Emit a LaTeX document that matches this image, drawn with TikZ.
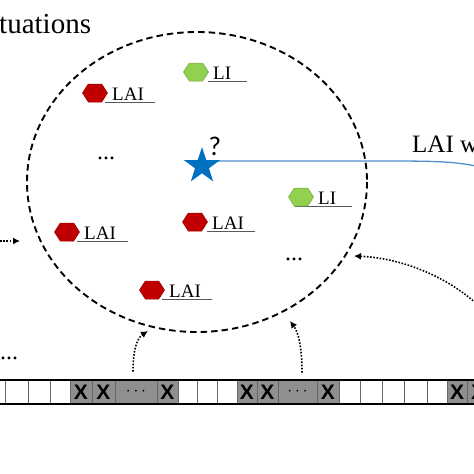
\documentclass[tikz,border=0pt]{standalone}
\usepackage{fontspec}
\setmainfont{Liberation Serif}
\newfontfamily\qmarkfont{Carlito}
\newfontfamily\cellfont{Liberation Sans}
\usetikzlibrary{shapes.geometric, shapes.symbols, arrows.meta, backgrounds}

\definecolor{laired}{HTML}{C00000}
\definecolor{ligreen}{HTML}{92D050}
\definecolor{starblue}{HTML}{0070C0}
\definecolor{trackblue}{HTML}{4F8FCF}
\definecolor{cellgray}{HTML}{8F8F8F}

\begin{document}
\begin{tikzpicture}[x=1pt, y=-1pt,
	hexa/.style={signal, signal to=east and west, signal pointer angle=115, minimum width=25pt, minimum height=18pt, inner sep=0pt, fill=#1, draw=#1!80!black, line width=0.5pt},
	tag/.style={anchor=base west, inner sep=0pt, font=\fontsize{19}{19}\selectfont},
	uline/.style={draw=black!65, line width=0.8pt},
	dotrow/.style={anchor=base, inner sep=0pt, font=\fontsize{24}{24}\selectfont},
	pool/.style={draw, line width=1.9pt, dash pattern=on 6.5pt off 4pt},
	hop/.style={line width=1.6pt, dash pattern=on 1.6pt off 1.6pt, -{Latex[length=7pt, width=7pt]}},
	cell/.style={draw=black!60, line width=0.7pt, minimum height=24pt, inner sep=0pt, font=\cellfont\bfseries\fontsize{21}{21}\selectfont}]

	\useasboundingbox (0,0) rectangle (474,474);
	\clip (0,0) rectangle (474,474);

	\node[anchor=base west, inner sep=0pt, font=\fontsize{29}{29}\selectfont] (title) at (-1,33) {tuations};

	\draw[pool] (197,182) ellipse [x radius=170, y radius=150];

	% labelled items inside the set
	\foreach \n/\x/\y/\c/\t/\s/\e in {a/95/93/laired/LAI/10/60, b/196/72/ligreen/LI/12/51, c/195/222/laired/LAI/12/60, d/67/232/laired/LAI/10/61, e/152/290/laired/LAI/10/60, f/301/197/ligreen/LI/-6/51} {
		\draw[uline] (\x+\s,\y+9.5) -- (\x+\e,\y+9.5); % underline
		\node[hexa=\c] (h\n) at (\x,\y) {};
		\node[tag] (t\n) at (\x+17,\y+7) {\t};
	}
	\node[dotrow] (dotsa) at (106,159) {...};
	\node[dotrow] (dotsb) at (294,260) {...};
	\node[dotrow, anchor=base west] (dotsc) at (0,359) {...};

	% query star and its track
	\node[star, star points=5, star point ratio=2.6, minimum size=38pt, inner sep=0pt, fill=starblue] (query) at (202,166) {};
	\node[anchor=base, inner sep=0pt, font=\qmarkfont\fontsize{27}{27}\selectfont] (qm) at (215,155) {?};
	\coordinate (trackend) at (476,166);
	\begin{scope}[on background layer]
		\draw[trackblue, line width=1.3pt] ([yshift=5pt]query.center) -- (390,161) .. controls (440,161) and (455,162) .. (trackend);
	\end{scope}
	\node[anchor=base west, inner sep=0pt, font=\fontsize{25}{25}\selectfont] (laiw) at (412,152) {LAI w};

	% strip of cells
	\foreach \i/\a/\b/\k in {1/-16/5/0, 2/5/28/0, 3/28/50/0, 4/50/70/0, 5/70/92/1, 6/92/115/1, 7/115/157/2, 8/157/178/1, 9/178/197/0, 10/197/217/0, 11/217/237/0, 12/237/257/1, 13/257/278/1, 14/278/317/2, 15/317/339/1, 16/339/360/0, 17/360/382/0, 18/382/404/0, 19/404/427/0, 20/427/447/0, 21/447/467/1, 22/467/489/1} {
		\pgfmathsetmacro\w{\b-\a}
		\ifnum\k=0 \node[cell, fill=white, minimum width=\w pt] (c\i) at ({(\a+\b)/2},392) {}; \fi
		\ifnum\k=1 \node[cell, fill=cellgray, minimum width=\w pt] (c\i) at ({(\a+\b)/2},392) {X}; \fi
		\ifnum\k=2 \node[cell, fill=cellgray, minimum width=\w pt] (c\i) at ({(\a+\b)/2},392) {\fontsize{17}{17}\selectfont$\cdots$}; \fi
	}
	\draw[line width=1.3pt] (-20,380) -- (490,380) (-20,404) -- (490,404); % strip edges

	% dotted arrows
	\coordinate (lin) at (0,241);
	\coordinate (lout) at (20,241);
	\coordinate (tipa) at (148,331);
	\coordinate (tipb) at (290,321);
	\coordinate (tipc) at (354,256);
	\coordinate (farc) at (478,305);
	\draw[hop] (lin) -- (lout);
	\draw[hop] ([xshift=-3pt, yshift=8pt]c7.north) .. controls (133,350) and (137,338) .. (tipa);
	\draw[hop] ([xshift=4.5pt, yshift=7pt]c14.north) .. controls (302,350) and (299,333) .. (tipb);
	\draw[hop] (farc) .. controls (445,275) and (400,258) .. (tipc);
\end{tikzpicture}
\end{document}
